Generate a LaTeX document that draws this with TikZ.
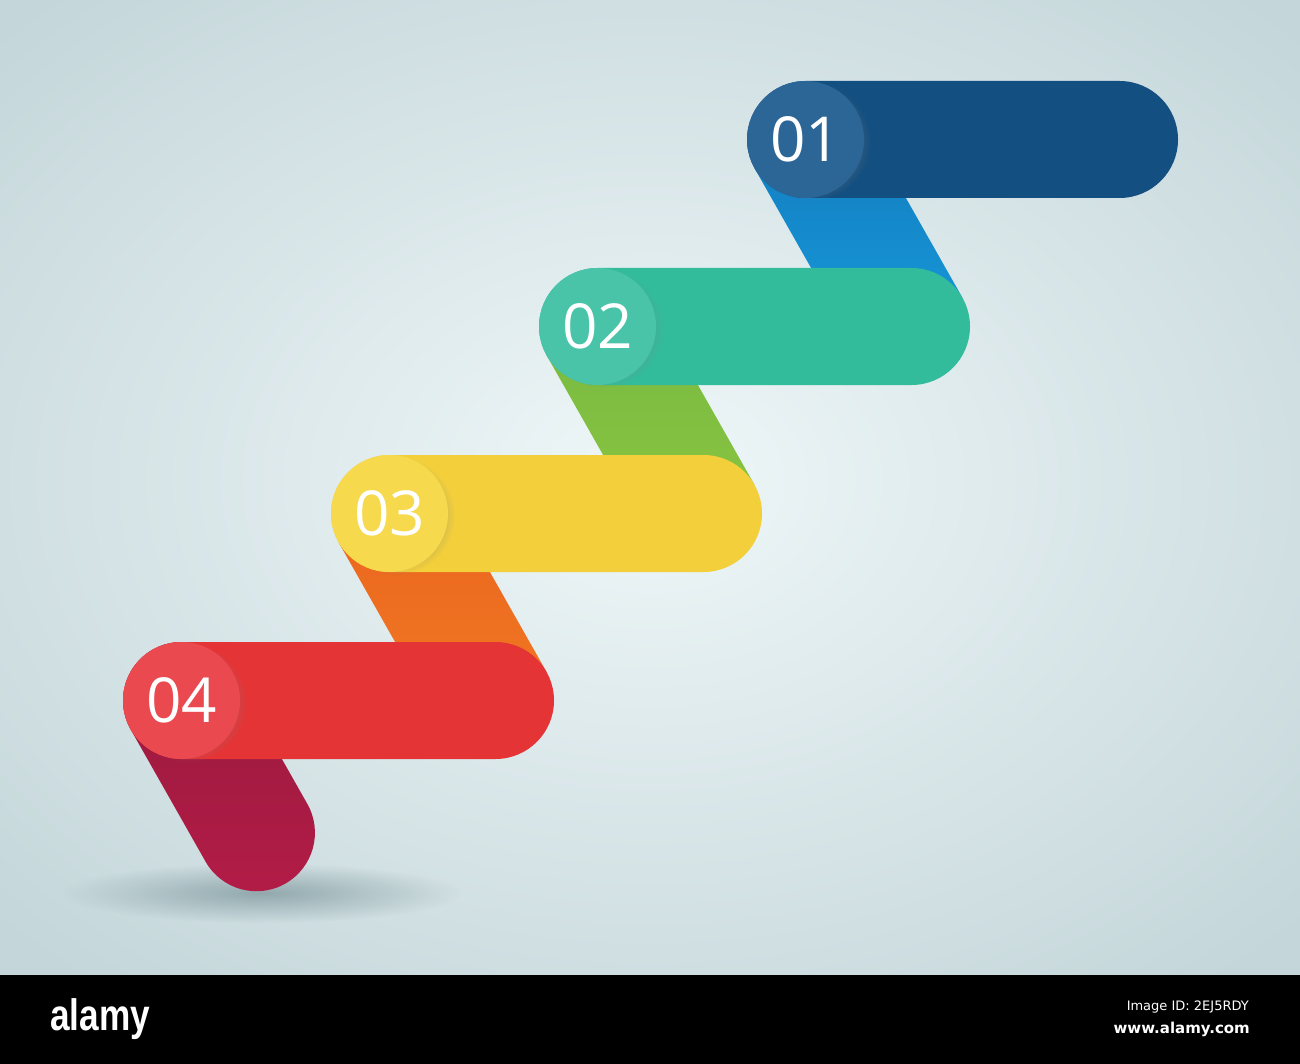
\documentclass[tikz,border=0pt]{standalone}
\usepackage{fontspec}
\setmainfont{Open Sans}
\newfontfamily\footfont{DejaVu Sans}
\newfontfamily\logofont{Liberation Sans}
\usetikzlibrary{calc,shapes.misc,shadows,fadings}

\definecolor{bgin}{HTML}{EFF7F8}
\definecolor{bgout}{HTML}{C4D6DA}
\definecolor{groundcol}{HTML}{7F979C}
\definecolor{navy}{HTML}{134F80}
\definecolor{navydisc}{HTML}{2C6696}
\definecolor{teal}{HTML}{33BC9C}
\definecolor{tealdisc}{HTML}{4AC4A9}
\definecolor{sun}{HTML}{F3D03B}
\definecolor{sundisc}{HTML}{F6D94D}
\definecolor{redbar}{HTML}{E53436}
\definecolor{reddisc}{HTML}{EB4950}
\definecolor{bluetop}{HTML}{1479BD}
\definecolor{bluebot}{HTML}{159CDB}
\definecolor{greentop}{HTML}{74B843}
\definecolor{greenbot}{HTML}{8DC63F}
\definecolor{orangetop}{HTML}{E9631F}
\definecolor{orangebot}{HTML}{F27A22}
\definecolor{crimtop}{HTML}{951A3C}
\definecolor{crimbot}{HTML}{B41C48}

\tikzfading[name=softspot, inner color=transparent!0, outer color=transparent!100]

\tikzset{
  bar/.style={rounded rectangle, minimum width=431pt, minimum height=117pt, inner sep=0pt},
  numdisc/.style={circle, minimum size=117pt, inner sep=0pt, text=white,
    font=\fontsize{62}{62}\selectfont,
    circular drop shadow={shadow xshift=6pt, shadow yshift=-2pt, opacity=0.18, shadow scale=1.02}},
}

\begin{document}
\begin{tikzpicture}[x=1pt,y=-1pt]
\useasboundingbox (0,0) rectangle (1300,1064);

% background and ground shadow
\begin{scope}
  \clip (0,0) rectangle (1300,975);
  \shade[inner color=bgin, outer color=bgout] (-250,-170) rectangle (1550,1130);
\end{scope}
\fill[groundcol, fill opacity=0.75, path fading=softspot]
  (262,893) ellipse [x radius=200, y radius=30];
\fill[black] (0,975) rectangle (1300,1064);

% cap centres
\coordinate (l1) at (805.5,139.5);
\coordinate (r1) at (1119.5,139.5);
\coordinate (l2) at (597.5,326.5);
\coordinate (r2) at (911.5,326.5);
\coordinate (l3) at (389.5,513.5);
\coordinate (r3) at (703.5,513.5);
\coordinate (l4) at (181.5,700.5);
\coordinate (r4) at (495.5,700.5);

% folded strips
\shade[top color=bluetop, bottom color=bluebot]
  ($(l1)!58.5pt!90:(r2)$) -- ($(l1)!58.5pt!-90:(r2)$) -- ($(r2)!58.5pt!90:(l1)$) -- ($(r2)!58.5pt!-90:(l1)$) -- cycle;
\shade[top color=greentop, bottom color=greenbot]
  ($(l2)!58.5pt!90:(r3)$) -- ($(l2)!58.5pt!-90:(r3)$) -- ($(r3)!58.5pt!90:(l2)$) -- ($(r3)!58.5pt!-90:(l2)$) -- cycle;
\shade[top color=orangetop, bottom color=orangebot]
  ($(l3)!58.5pt!90:(r4)$) -- ($(l3)!58.5pt!-90:(r4)$) -- ($(r4)!58.5pt!90:(l3)$) -- ($(r4)!58.5pt!-90:(l3)$) -- cycle;
\begin{scope}[shift={(l4)}, rotate=-60.46]
  \shade[top color=crimtop, bottom color=crimbot, rounded corners=58.5pt]
    (-58.5,-58.5) rectangle (210.5,58.5);
\end{scope}

% bars
\node[bar, fill=navy] (bar1) at (962.5,139.5) {};
\node[bar, fill=teal] (bar2) at (754.5,326.5) {};
\node[bar, fill=sun] (bar3) at (546.5,513.5) {};
\node[bar, fill=redbar] (bar4) at (338.5,700.5) {};

% number discs
\node[numdisc, fill=navydisc] (n1) at (l1) {01};
\node[numdisc, fill=tealdisc] (n2) at (l2) {02};
\node[numdisc, fill=sundisc] (n3) at (l3) {03};
\node[numdisc, fill=reddisc] (n4) at (l4) {04};

% footer
\node[anchor=base west, text=white, inner sep=0pt, font=\logofont\bfseries\fontsize{44}{44}\selectfont]
  (logo) at (50,1030) {\scalebox{0.8}[1]{alamy}};
\node[anchor=east, text=white, inner sep=0pt, font=\footfont\fontsize{13}{13}\selectfont]
  (imgid) at (1249,1007) {Image ID: 2EJ5RDY};
\node[anchor=east, text=white, inner sep=0pt, font=\footfont\bfseries\fontsize{15}{15}\selectfont]
  (site) at (1250,1029) {www.alamy.com};
\end{tikzpicture}
\end{document}
